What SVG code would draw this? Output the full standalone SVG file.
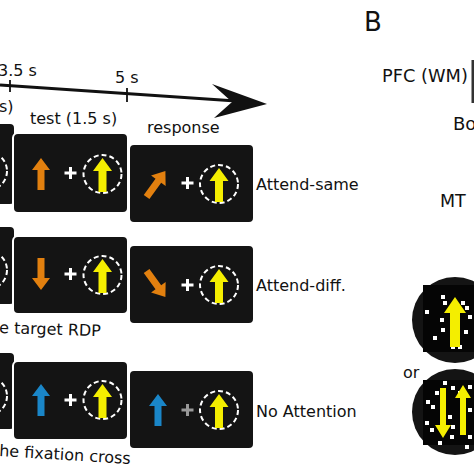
<svg xmlns="http://www.w3.org/2000/svg" width="474" height="474" viewBox="0 0 474 474">
<defs>
<style>
text{font-family:"DejaVu Sans","Liberation Sans",sans-serif;fill:#111;font-size:16px}
.pnl{fill:#141414;stroke:#fff;stroke-width:2}
.dc{fill:none;stroke:#fff;stroke-width:2;stroke-dasharray:5 3}
.pl{stroke:#fff;stroke-width:3;fill:none}
.plg{stroke:#999;stroke-width:3;fill:none}
.yel{fill:#f4ee00}
.org{fill:#e2800f}
.blu{fill:#1a86c8}
.dot{fill:#fff}
</style>
<path id="arr" d="M0,-16 L9,-4 L3.5,-4 L3.5,16 L-3.5,16 L-3.5,-4 L-9,-4 Z"/>
<path id="yarr" d="M0,-17 L9.5,-4 L4,-4 L4,17 L-4,17 L-4,-4 L-9.5,-4 Z"/>
<g id="plus"><path d="M-6,0 H6 M0,-6 V6"/></g>
</defs>
<rect width="474" height="474" fill="#fff"/>

<g id="timeline">
<path d="M0,85 L236,101" stroke="#111" stroke-width="3" fill="none"/>
<path d="M212,84 L267,104 L214,118 L232,102 Z" fill="#111"/>
<path d="M10,80 V92 M127,88 V102" stroke="#111" stroke-width="1.8"/>
<text x="-2" y="76">3.5 s</text>
<text x="115" y="83">5 s</text>
<text x="-1" y="112">s)</text>
<text x="30" y="124">test (1.5 s)</text>
<text x="147" y="133">response</text>
</g>

<g id="row1">
<rect class="pnl" x="-20" y="123" width="35" height="82" rx="5"/>
<circle class="dc" cx="-12" cy="171" r="19"/>
<rect class="pnl" x="13" y="133" width="115" height="80" rx="5"/>
<use href="#arr" class="org" x="41" y="174"/>
<use href="#plus" class="pl" x="70.5" y="173"/>
<circle class="dc" cx="102.5" cy="174" r="19"/>
<use href="#yarr" class="yel" x="102.5" y="175"/>
<rect class="pnl" x="129" y="144" width="125" height="79" rx="5"/>
<use href="#arr" class="org" transform="translate(156,184) rotate(36)"/>
<use href="#plus" class="pl" x="187.5" y="183"/>
<circle class="dc" cx="219" cy="184" r="19"/>
<use href="#yarr" class="yel" x="219" y="185"/>
<text x="256" y="190">Attend-same</text>
</g>

<g id="row2">
<rect class="pnl" x="-20" y="226" width="35" height="79" rx="5"/>
<circle class="dc" cx="-12" cy="270" r="19"/>
<rect class="pnl" x="13" y="236" width="115" height="78" rx="5"/>
<use href="#arr" class="org" transform="translate(41,274) rotate(180)"/>
<use href="#plus" class="pl" x="70.5" y="274"/>
<circle class="dc" cx="102.5" cy="275" r="19"/>
<use href="#yarr" class="yel" x="102.5" y="276"/>
<rect class="pnl" x="129" y="245" width="125" height="79" rx="5"/>
<use href="#arr" class="org" transform="translate(156,284) rotate(144)"/>
<use href="#plus" class="pl" x="187.5" y="285"/>
<circle class="dc" cx="219" cy="285" r="19"/>
<use href="#yarr" class="yel" x="219" y="286"/>
<text x="256" y="291">Attend-diff.</text>
<text x="-1" y="333" transform="rotate(1.8 -1 333)">e target RDP</text>
</g>

<g id="row3">
<rect class="pnl" x="-20" y="352" width="35" height="78" rx="5"/>
<circle class="dc" cx="-12" cy="396" r="19"/>
<rect class="pnl" x="13" y="361" width="115" height="79" rx="5"/>
<use href="#arr" class="blu" x="41" y="400"/>
<use href="#plus" class="pl" x="70.5" y="400"/>
<circle class="dc" cx="102.5" cy="400" r="19"/>
<use href="#yarr" class="yel" x="102.5" y="401"/>
<rect class="pnl" x="129" y="370" width="125" height="79" rx="5"/>
<use href="#arr" class="blu" x="158" y="410"/>
<use href="#plus" class="plg" x="187.5" y="410"/>
<circle class="dc" cx="219" cy="410" r="19"/>
<use href="#yarr" class="yel" x="219" y="411"/>
<text x="256" y="417">No Attention</text>
<text x="-1" y="456" transform="rotate(3.5 -1 456)">he fixation cross</text>
</g>

<g id="panelB">
<text x="364" y="31" style="font-size:26px">B</text>
<text x="382" y="82" style="font-size:17.8px">PFC (WM)</text>
<rect x="471.5" y="60" width="3" height="43" fill="#333"/>
<text x="453" y="130" style="font-size:18px">Bo</text>
<text x="440" y="207" style="font-size:17.5px">MT</text>
<text x="403" y="378">or</text>
</g>

<g id="stim1">
<circle cx="455" cy="320" r="43" fill="#141414"/>
<rect x="423" y="285" width="55" height="67" fill="#050505"/>
<g class="dot">
<rect x="441" y="295" width="4" height="4"/><rect x="443" y="301" width="4" height="4"/>
<rect x="425" y="310" width="4" height="4"/><rect x="440" y="318" width="4" height="4"/>
<rect x="465" y="306" width="4" height="4"/><rect x="461" y="301" width="4" height="4"/>
<rect x="468" y="315" width="4" height="4"/><rect x="464" y="330" width="4" height="4"/>
<rect x="441" y="328" width="4" height="4"/><rect x="433" y="336" width="4" height="4"/>
<rect x="458" y="345" width="4" height="4"/><rect x="451" y="345" width="4" height="4"/>
</g>
<path d="M455,297 L466,313 L460,313 L460,347 L450,347 L450,313 L444,313 Z" fill="#f4ee00"/>
</g>

<g id="stim2">
<circle cx="455" cy="412" r="43" fill="#141414"/>
<rect x="423" y="380" width="55" height="65" fill="#050505"/>
<g class="dot">
<rect x="443" y="381" width="4" height="4"/><rect x="426" y="400" width="4" height="4"/>
<rect x="435" y="391" width="4" height="4"/><rect x="451" y="386" width="4" height="4"/>
<rect x="458" y="391" width="4" height="4"/><rect x="468" y="385" width="4" height="4"/>
<rect x="425" y="421" width="4" height="4"/><rect x="430" y="428" width="4" height="4"/>
<rect x="448" y="415" width="4" height="4"/><rect x="451" y="425" width="4" height="4"/>
<rect x="450" y="435" width="4" height="4"/><rect x="438" y="441" width="4" height="4"/>
<rect x="468" y="435" width="4" height="4"/><rect x="431" y="405" width="4" height="4"/>
<rect x="468" y="408" width="4" height="4"/><rect x="465" y="445" width="4" height="4"/>
</g>
<path d="M443,438 L435,425 L440,425 L440,388 L446,388 L446,425 L451,425 Z" fill="#f4ee00"/>
<path d="M463,385 L471,398 L466,398 L466,435 L460,435 L460,398 L455,398 Z" fill="#f4ee00"/>
</g>
</svg>
